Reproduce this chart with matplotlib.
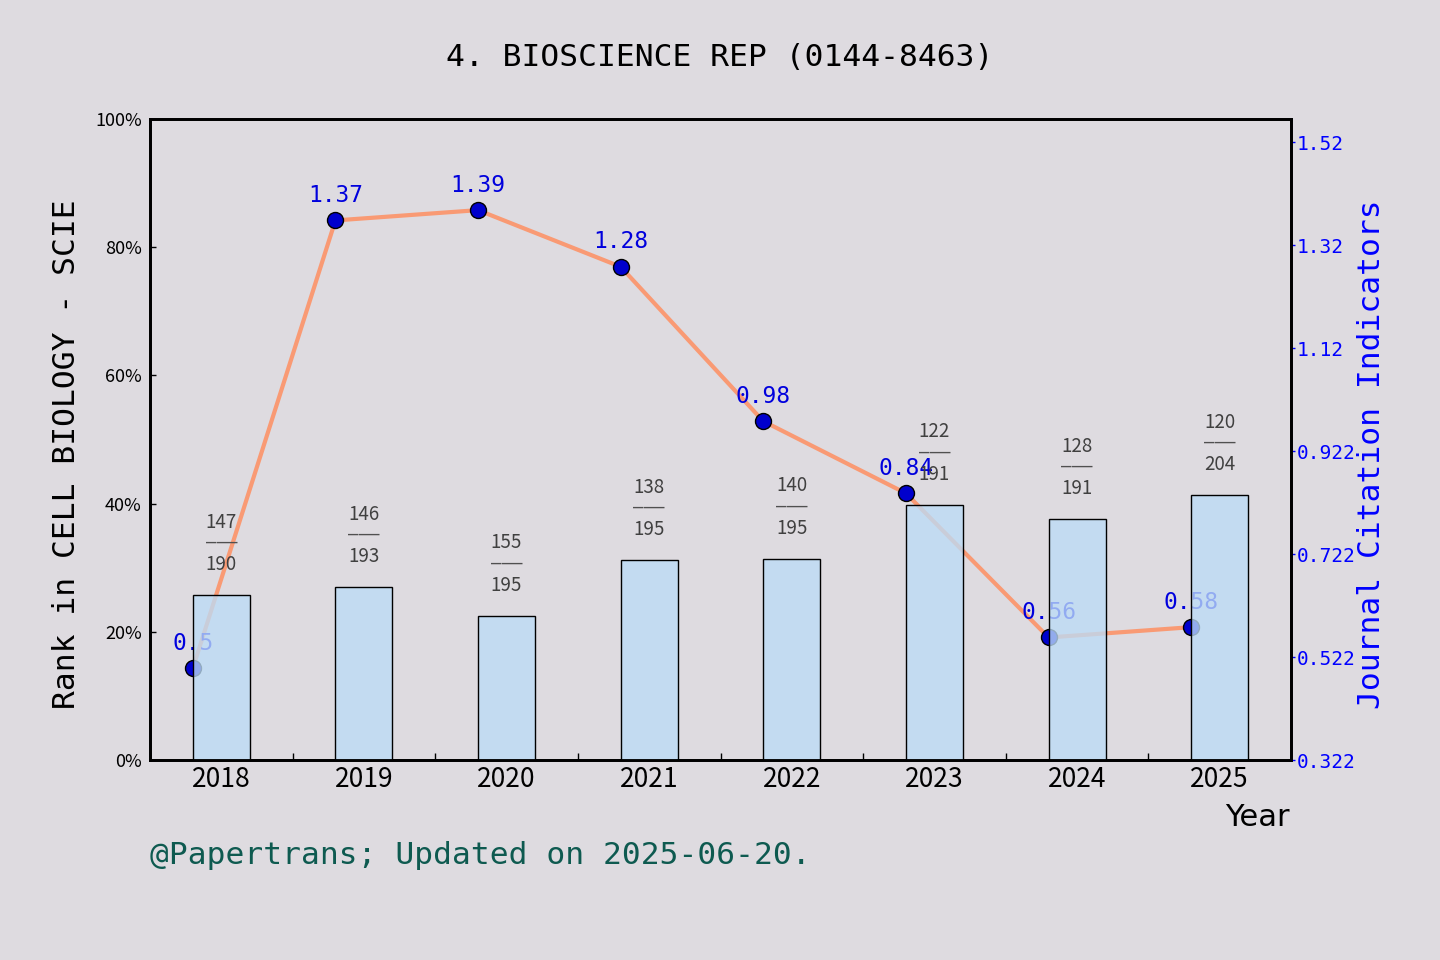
import matplotlib.pyplot as plt
import numpy as np
from matplotlib.ticker import PercentFormatter, FormatStrFormatter

years = ["2018", "2019", "2020", "2021", "2022", "2023", "2024", "2025"]
ranks = [147, 146, 155, 138, 140, 122, 128, 120]
totals = [190, 193, 195, 195, 195, 191, 191, 204]
bar_share = [0.257, 0.270, 0.225, 0.312, 0.314, 0.398, 0.376, 0.413]
jci = [0.50, 1.37, 1.39, 1.28, 0.98, 0.84, 0.56, 0.58]

BG = "#dedbe0"
MONO = "DejaVu Sans Mono"
SANS = ["Noto Sans CJK SC", "DejaVu Sans"]

fig = plt.figure(figsize=(14.4, 9.6), dpi=100, facecolor=BG)
ax = fig.add_axes([150 / 1440, 1 - 760 / 960, (1291 - 150) / 1440, (760 - 119) / 960])
ax2 = ax.twinx()
ax.set_zorder(2)
ax.patch.set_visible(False)
ax2.set_zorder(1)
ax2.patch.set_facecolor("white")

x = np.arange(len(years))

# bars (rank share), drawn above the JCI line
ax.bar(x, bar_share, width=0.4, color=(188 / 255, 220 / 255, 247 / 255, 0.78),
       edgecolor="black", linewidth=1)
for i in range(len(years)):
    ax.annotate(str(totals[i]), xy=(x[i], bar_share[i]), xytext=(0, 22),
                textcoords="offset points", ha="center", va="center",
                fontsize=13.5, color="#404040", family=SANS)
    ax.annotate("\u2013\u2013\u2013", xy=(x[i], bar_share[i]), xytext=(0, 37.5),
                textcoords="offset points", ha="center", va="center",
                fontsize=12.5, color="#505050", family=MONO)
    ax.annotate(str(ranks[i]), xy=(x[i], bar_share[i]), xytext=(0, 52.5),
                textcoords="offset points", ha="center", va="center",
                fontsize=13.5, color="#404040", family=SANS)

ax.set_xlim(-0.5, len(years) - 0.5)
ax.set_ylim(0, 1)
ax.set_yticks(np.arange(0, 1.01, 0.2))
ax.yaxis.set_major_formatter(PercentFormatter(1, decimals=0))
ax.set_xticks(x)
ax.set_xticklabels(years)
ax.set_xticks(x[:-1] + 0.5, minor=True)
ax.tick_params(axis="x", which="major", length=0, pad=4, labelsize=19)
ax.tick_params(axis="x", which="minor", direction="in", length=5, width=1)
ax.tick_params(axis="y", direction="in", length=4, width=1, pad=6, labelsize=13)
for lab in ax.get_xticklabels() + ax.get_yticklabels():
    lab.set_family(SANS)

# line (JCI)
ax2.plot(x - 0.2, jci, color="#f99a74", linewidth=3, marker="o", markersize=11.5,
         markerfacecolor="#0000cd", markeredgecolor="black", markeredgewidth=1)
for i, v in enumerate(jci):
    ax2.annotate(f"{v:g}", xy=(x[i] - 0.2, v), xytext=(0, 18),
                 textcoords="offset points", ha="center", va="center",
                 fontsize=16.5, color="#0000dd", family=MONO)
ax2.set_ylim(0.322, 1.567)
ax2.set_yticks(np.arange(0.322, 1.53, 0.2))
ax2.yaxis.set_major_formatter(FormatStrFormatter("%.3g"))
ax2.tick_params(axis="y", direction="out", length=3, width=1, color="blue",
                labelcolor="blue", pad=1, labelsize=14)
for lab in ax2.get_yticklabels():
    lab.set_family(MONO)

for a in (ax, ax2):
    for s in a.spines.values():
        s.set_linewidth(2)
        s.set_color("black")

fig.text(0.5, 1 - 57 / 960, "4. BIOSCIENCE REP (0144-8463)", ha="center", va="center",
         fontsize=22.5, family=MONO)
fig.text(67 / 1440, 1 - 454 / 960, "Rank in CELL BIOLOGY - SCIE", rotation=90,
         ha="center", va="center", fontsize=22.5, family=MONO)
fig.text(1372 / 1440, 1 - 454 / 960, "Journal Citation Indicators", rotation=90,
         ha="center", va="center", fontsize=22.5, family=MONO, color="blue")
fig.text(1290 / 1440, 1 - 817 / 960, "Year", ha="right", va="center",
         fontsize=22, family="DejaVu Sans")
fig.text(150 / 1440, 1 - 855 / 960, "@Papertrans; Updated on 2025-06-20.",
         ha="left", va="center", fontsize=22.5, family=MONO, color="#0e5a50")

fig.savefig("out.png", dpi=100, facecolor=BG)
